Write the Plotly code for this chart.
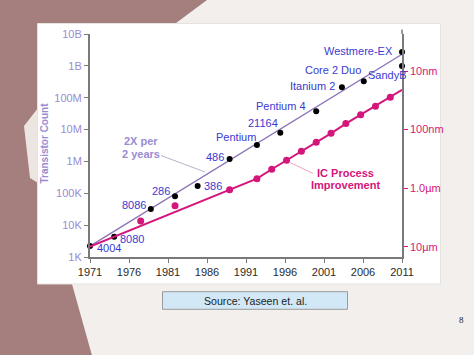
import numpy as np
import plotly.graph_objects as go

# ---------------- data ----------------
chip_names = ["4004", "8080", "8086", "286", "386", "486", "Pentium", "21164",
              "Pentium 4", "Itanium 2", "Core 2 Duo", "Westmere-EX", "SandyB"]
chip_years = [1971, 1974.1, 1978.8, 1981.9, 1984.8, 1988.9, 1992.4, 1995.4,
              2000.0, 2003.3, 2006.1, 2011, 2011]
chip_counts = [2200, 4300, 32000, 80000, 169000, 1.19e6, 3.27e6, 7.96e6,
               37.4e6, 212e6, 327e6, 2.72e9, 0.99e9]

trend_years = [1971, 2011]
trend_counts = [2200, 2.3e9]

process_line_years = [1971, 1988.9, 1992.4, 1994.3, 1996.2, 1998.1, 2000.0,
                      2001.9, 2003.8, 2005.7, 2007.6, 2009.5, 2011]
process_line_nm = [10000, 1064, 690, 476, 335, 235, 165, 116, 79, 56, 40, 28, 21]

process_dot_years = [1977.5, 1981.9, 1988.9, 1992.4, 1994.3, 1996.2, 1998.1,
                     2000.0, 2001.9, 2003.8, 2005.7, 2007.6, 2009.5]
process_dot_nm = [3640, 2000, 1064, 690, 476, 335, 235, 165, 116, 79, 56, 40, 28]

x_ticks = [1971, 1976, 1981, 1986, 1991, 1996, 2001, 2006, 2011]
count_tickvals = [1e3, 1e4, 1e5, 1e6, 1e7, 1e8, 1e9, 1e10]
count_ticktext = ["1K", "10K", "100K", "1M", "10M", "100M", "1B", "10B"]
size_tickvals = [10, 100, 1000, 10000]
size_ticktext = ["10nm", "100nm", "1.0µm", "10µm"]

# label placement (pixels): (xanchor, xshift, yshift)
label_pos = {
    "4004": ("left", 6, -2), "8080": ("left", 5, -2), "8086": ("right", -4, 4),
    "286": ("right", -4, 5), "386": ("left", 5, 0), "486": ("right", -5, 2),
    "Pentium": ("right", 0, 8), "21164": ("right", -1, 10),
    "Pentium 4": ("right", -9, 5), "Itanium 2": ("right", -6, 1),
    "Core 2 Duo": ("right", -2, 11), "Westmere-EX": ("right", -8, 1),
    "SandyB": ("right", 6, -9),
}

# ---------------- layout geometry ----------------
W, H = 474, 355
L, R, T, B = 90, 72, 34, 98
PW, PH = W - L - R, H - T - B


def px(x):
    return (x - L) / PW


def py(y):
    return (H - B - y) / PH


FONT = "Liberation Sans, Arial, Helvetica, sans-serif"
BLUE = "#3a3ad0"
LAV = "#9a8cd2"
PINK = "#d4157a"
PURPLE = "#8d74b8"
AXIS = "#7a7a7a"

fig = go.Figure()

fig.add_trace(go.Scatter(x=trend_years, y=trend_counts, mode="lines",
                         line=dict(color=PURPLE, width=1.3), hoverinfo="skip",
                         showlegend=False, cliponaxis=False))
fig.add_trace(go.Scatter(x=process_line_years, y=process_line_nm, mode="lines",
                         line=dict(color=PINK, width=2), yaxis="y2",
                         showlegend=False, cliponaxis=False))
fig.add_trace(go.Scatter(x=process_dot_years, y=process_dot_nm, mode="markers",
                         marker=dict(color=PINK, size=7), yaxis="y2",
                         showlegend=False, cliponaxis=False))
fig.add_trace(go.Scatter(x=chip_years, y=chip_counts, mode="markers",
                         marker=dict(color="#000000", size=6),
                         showlegend=False, cliponaxis=False))

annotations = []
for name, yr, c in zip(chip_names, chip_years, chip_counts):
    xa, xs, ys = label_pos[name]
    annotations.append(dict(x=yr, y=np.log10(c), xref="x", yref="y", text=name,
                            showarrow=False, xanchor=xa, yanchor="middle",
                            xshift=xs, yshift=ys, borderpad=0,
                            font=dict(family=FONT, size=11, color=BLUE)))


def ptext(text, x, y, size, color, bold=False, family=FONT, angle=0):
    t = f"<b>{text}</b>" if bold else text
    annotations.append(dict(x=px(x), y=py(y), xref="paper", yref="paper", text=t,
                            showarrow=False, xanchor="center", yanchor="middle",
                            textangle=angle, borderpad=0,
                            font=dict(family=family, size=size, color=color)))


ptext("2X per", 141, 141, 11, LAV, bold=True)
ptext("2 years", 141, 153.5, 11, LAV, bold=True)
ptext("IC Process", 345, 172.7, 11, PINK, bold=True)
ptext("Improvement", 345.5, 185, 11, PINK, bold=True)
ptext("Transistor Count", 44, 143.5, 10, LAV, bold=True, angle=-90)
ptext("Source: Yaseen et. al.", 255, 300.5, 10.6, "#222222")
ptext("8", 461, 320, 9, "#222222", family="Liberation Serif, Times New Roman, serif")


def ppath(points):
    return "M " + " L ".join(f"{px(a):.5f},{py(b):.5f}" for a, b in points) + " Z"


shapes = [
    # rose textured slide backdrop
    dict(type="path", xref="paper", yref="paper", layer="below",
         path=ppath([(0, 0), (207, 0), (172, 26), (60, 180), (72, 284), (91, 352),
                     (92, 355), (0, 355)]),
         fillcolor="#a57e7e", line=dict(width=0)),
    # light patch at left
    dict(type="path", xref="paper", yref="paper", layer="below",
         path=ppath([(38, 108), (24, 126), (30, 178), (38, 183)]),
         fillcolor="#ece5e2", line=dict(width=0)),
    # white chart panel
    dict(type="rect", xref="paper", yref="paper", layer="below",
         x0=px(37.5), x1=px(440.5), y0=py(284), y1=py(23.5),
         fillcolor="#ffffff", line=dict(color="#e6e2e0", width=1)),
    # source box
    dict(type="rect", xref="paper", yref="paper", layer="below",
         x0=px(162.5), x1=px(347.5), y0=py(309.3), y1=py(291.7),
         fillcolor="#d2e8f6", line=dict(color="#9a9a9a", width=1)),
    # leader lines
    dict(type="line", xref="paper", yref="paper",
         x0=px(161), y0=py(155.5), x1=px(205), y1=py(172),
         line=dict(color="#b9b2cc", width=1)),
    dict(type="line", xref="paper", yref="paper",
         x0=px(290), y0=py(162.5), x1=px(313), y1=py(173.5),
         line=dict(color="#e7a6c6", width=1)),
    # right axis line extension above plot
    dict(type="line", xref="paper", yref="paper",
         x0=px(402), y0=py(29.5), x1=px(402), y1=py(34),
         line=dict(color=AXIS, width=1.5)),
]

fig.update_layout(
    width=W, height=H,
    margin=dict(l=L, r=R, t=T, b=B, pad=0),
    paper_bgcolor="#f3efed",
    plot_bgcolor="rgba(0,0,0,0)",
    showlegend=False,
    font=dict(family=FONT),
    xaxis=dict(range=[1971, 2011], tickvals=x_ticks, ticks="outside", ticklen=4,
               tickcolor=AXIS, showline=True, linecolor=AXIS, linewidth=2,
               showgrid=False, zeroline=False,
               tickfont=dict(family=FONT, size=11, color="#2a2a2a")),
    yaxis=dict(type="log", range=[3, 10], tickvals=count_tickvals,
               ticktext=count_ticktext, ticks="outside", ticklen=4, tickcolor=AXIS,
               showline=True, linecolor=AXIS, linewidth=2, showgrid=False,
               zeroline=False, tickfont=dict(family=FONT, size=11, color=LAV)),
    yaxis2=dict(type="log", range=[4.176, 0.368], overlaying="y", side="right",
                tickvals=size_tickvals, ticktext=size_ticktext, ticks="outside",
                ticklen=4, tickcolor=PINK, showline=True, linecolor=AXIS,
                linewidth=1.5, showgrid=False, zeroline=False,
                tickfont=dict(family=FONT, size=11, color=PINK)),
    annotations=annotations,
    shapes=shapes,
)

fig.write_html("out.html",
               config={"displayModeBar": False},
               post_script="document.body.style.margin='0';"
                           "document.body.style.overflow='hidden';")
